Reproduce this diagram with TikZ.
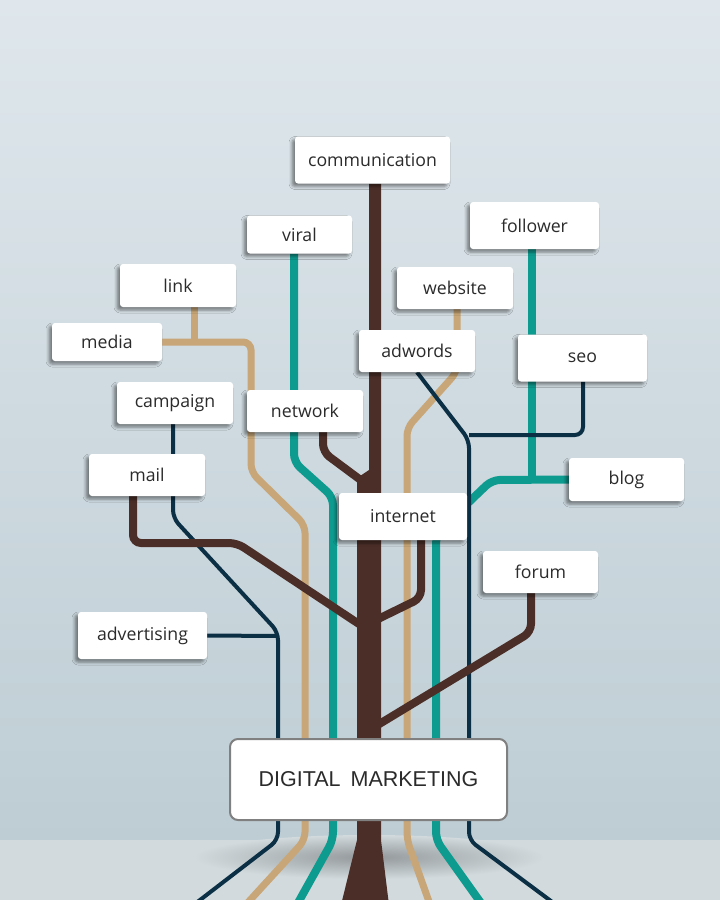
\documentclass[tikz,border=0pt]{standalone}
\usepackage{fontspec}
\setmainfont{Open Sans}
\newfontfamily\dmfont{Liberation Sans}
\usetikzlibrary{shadows.blur}
\pgfdeclarelayer{back}
\pgfdeclarelayer{lines}
\pgfdeclarelayer{brlines}
\pgfsetlayers{back,lines,brlines,main}
\definecolor{cbrown}{HTML}{4B2E27}
\definecolor{cteal}{HTML}{0E9B8F}
\definecolor{ctan}{HTML}{C8A677}
\definecolor{cnavy}{HTML}{0B2F45}
\definecolor{ctext}{HTML}{2B2B2B}
\definecolor{bgtop}{HTML}{DFE7EC}
\definecolor{bgbot}{HTML}{BECDD4}
\definecolor{floorc}{HTML}{D2DADD}
\begin{document}
\begin{tikzpicture}[x=1pt,y=-1pt,
  lbl/.style={fill=white, rounded corners=3pt, inner sep=0pt, text=ctext,
    font=\fontsize{17.7}{21}\selectfont,
    blur shadow={shadow xshift=-3pt, shadow yshift=-3pt, shadow blur radius=3pt, shadow opacity=45}},
  dmbox/.style={fill=white, draw=black!50, line width=2pt, rounded corners=8pt, inner sep=0pt,
    text=ctext, font=\dmfont\fontsize{21.5}{25}\selectfont,
    minimum width=277pt, minimum height=81pt},
  brl/.style={draw=cbrown, line width=8pt, rounded corners=8pt},
  tnl/.style={draw=ctan, line width=7pt, rounded corners=8pt},
  tel/.style={draw=cteal, line width=8pt, rounded corners=8pt},
  nvl/.style={draw=cnavy, line width=4pt, rounded corners=8pt}]
\useasboundingbox (0,0) rectangle (720,900);
\clip (0,0) rectangle (720,900);

% nodes
\node[lbl, minimum width=155pt, minimum height=47pt] (comm) at (372.5,160) {communication};
\node[lbl, minimum width=105pt, minimum height=38pt] (viral) at (299.5,234.5) {viral};
\node[lbl, minimum width=116pt, minimum height=43pt] (link) at (178,285.5) {link};
\node[lbl, minimum width=110pt, minimum height=38pt] (media) at (107,342) {media};
\node[lbl, minimum width=116pt, minimum height=42pt] (campaign) at (175,403) {campaign};
\node[lbl, minimum width=116pt, minimum height=42pt] (network) at (305,411) {network};
\node[lbl, minimum width=116pt, minimum height=42pt] (mail) at (147,475) {mail};
\node[lbl, minimum width=129pt, minimum height=47pt] (advertising) at (142.5,635.5) {advertising};
\node[lbl, minimum width=129pt, minimum height=47pt] (follower) at (534.5,225.5) {follower};
\node[lbl, minimum width=116pt, minimum height=42pt] (website) at (455,288) {website};
\node[lbl, minimum width=116pt, minimum height=42pt] (adwords) at (417,351) {adwords};
\node[lbl, minimum width=129pt, minimum height=47pt] (seo) at (582.5,358) {seo};
\node[lbl, minimum width=115pt, minimum height=43pt] (blog) at (626.5,479.5) {blog};
\node[lbl, minimum width=128pt, minimum height=47pt] (internet) at (403,516.5) {internet};
\node[lbl, minimum width=115pt, minimum height=42pt] (forum) at (540.5,572) {forum};
\node[dmbox] (dm) at (368.5,779.5) {DIGITAL\hspace{10pt}MARKETING};

% background
\begin{pgfonlayer}{back}
\shade[top color=bgtop, bottom color=bgbot] (0,0) rectangle (720,840);
\fill[floorc] (0,840) rectangle (720,900);
\shade[inner color=black!30!floorc, outer color=floorc] (369,857) ellipse [x radius=175pt, y radius=22pt];
\end{pgfonlayer}

% coloured connectors
\begin{pgfonlayer}{lines}
% tan
\draw[tnl] (194,0 |- link.south) -- (194,342);
\draw[tnl] (media.east) -- (251,342) -- (251,472) -- (305,525) -- (305,840) -- (241,910);
\draw[tnl] (457,0 |- website.south) -- (457,372) -- (407,428) -- (407,840) -- (432,910);
% teal
\draw[tel] (294,0 |- viral.south) -- (294,462) -- (333,497) -- (333,840) -- (294,910);
\draw[tel] (532,0 |- follower.south) -- (532,480);
\draw[tel] (blog.west) -- (492,480) -- (469,502) -- (436,535) -- (436,840) -- (486,910);
% navy
\draw[nvl] (173,0 |- campaign.south) -- (173,518) -- (278,632) -- (278,840) -- (187,910);
\draw[nvl] (advertising.east) -- (278,636);
\draw[nvl] (417,0 |- adwords.south) -- (469,440) -- (469,840) -- (563,910);
\draw[nvl] (583,0 |- seo.south) -- (583,435) -- (469,435);
\end{pgfonlayer}

% brown trunk and branches
\begin{pgfonlayer}{brlines}
\fill[cbrown] (369,0 |- comm.south) -- (381,0 |- comm.south) -- (381,840) -- (389,905) -- (341,905) -- (357,840) -- (357,478) -- (369,470) -- cycle;
\draw[brl] (323,0 |- network.south) -- (323,452) -- (362,481);
\draw[brl] (133,0 |- mail.south) -- (133,543) -- (237,543) -- (362,626);
\draw[brl] (421,0 |- internet.south) -- (421,598) -- (376,620);
\draw[brl] (531,0 |- forum.south) -- (531,632) -- (376,726);
\end{pgfonlayer}
\end{tikzpicture}
\end{document}
